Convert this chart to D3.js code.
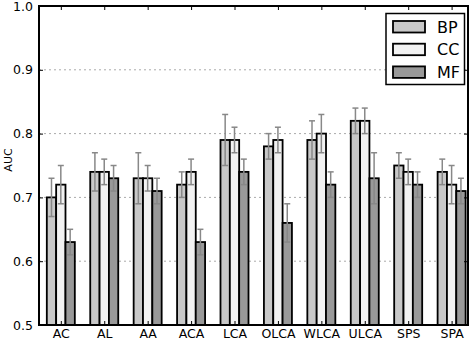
<!DOCTYPE html>
<html><head><meta charset="utf-8">
<script src="https://cdn.jsdelivr.net/npm/d3@7/dist/d3.min.js"></script>
<style>body{margin:0;background:#fff}svg{display:block}text{font-family:"DejaVu Sans",sans-serif;fill:#000}</style>
</head><body><svg id="c" width="474" height="341"></svg>
<script>
const categories = ["AC","AL","AA","ACA","LCA","OLCA","WLCA","ULCA","SPS","SPA"];
const seriesNames = ["BP","CC","MF"];
const bpValues = [0.70,0.74,0.73,0.72,0.79,0.78,0.79,0.82,0.75,0.74];
const ccValues = [0.72,0.74,0.73,0.74,0.79,0.79,0.80,0.82,0.74,0.72];
const mfValues = [0.63,0.73,0.71,0.63,0.74,0.66,0.72,0.73,0.72,0.71];
const bpErr = [0.03,0.03,0.04,0.02,0.04,0.02,0.03,0.02,0.02,0.02];
const ccErr = [0.03,0.02,0.02,0.02,0.02,0.02,0.03,0.02,0.02,0.03];
const mfErr = [0.02,0.02,0.02,0.02,0.02,0.03,0.02,0.04,0.02,0.02];
const yTicks = [0.5,0.6,0.7,0.8,0.9,1.0];
const colors = ["#c8c8c8","#f2f2f2","#999999"];

const svg = d3.select("#c");
const L=39, R=468, T=6, B=325;
const barW = 0.215;
const x = d3.scaleLinear().domain([-0.18, 9.7]).range([L, R]);
const y = d3.scaleLinear().domain([0.5, 1.0]).range([B, T]);

// grid
svg.append("g").selectAll("line").data(yTicks.filter(v=>v>0.5&&v<1)).join("line")
  .attr("x1",L).attr("x2",R).attr("y1",d=>y(d)).attr("y2",d=>y(d))
  .attr("stroke","#aaa").attr("stroke-width",1).attr("stroke-dasharray","2,3");

const series = [bpValues, ccValues, mfValues];
const errs = [bpErr, ccErr, mfErr];
series.forEach((vals, s) => {
  const g = svg.append("g");
  g.selectAll("rect").data(vals).join("rect")
    .attr("x", (d,i)=>x(i + s*barW))
    .attr("y", d=>y(d))
    .attr("width", x(barW)-x(0))
    .attr("height", d=>y(0.5)-y(d))
    .attr("fill", colors[s]).attr("stroke","#000").attr("stroke-width",1.8);
});
series.forEach((vals, s) => {
  const g = svg.append("g").attr("stroke","#888").attr("stroke-width",1.5);
  vals.forEach((d,i)=>{
    const cx = x(i + s*barW + barW/2);
    const e = errs[s][i];
    g.append("line").attr("x1",cx).attr("x2",cx).attr("y1",y(d-e)).attr("y2",y(d+e));
    [d-e,d+e].forEach(v=>g.append("line").attr("x1",cx-3).attr("x2",cx+3).attr("y1",y(v)).attr("y2",y(v)));
  });
});

// frame
svg.append("rect").attr("x",L).attr("y",T).attr("width",R-L).attr("height",B-T)
  .attr("fill","none").attr("stroke","#000").attr("stroke-width",2);

// ticks
const yAxis = d3.axisLeft(y).tickValues(yTicks).tickFormat(d3.format(".1f")).tickSize(-4).tickPadding(6);
const ya = svg.append("g").attr("transform",`translate(${L},0)`).call(yAxis);
ya.select(".domain").remove();
ya.selectAll("text").style("font-size","12.5px").style("font-family","DejaVu Sans");
ya.selectAll("line").attr("stroke","#000");
const yr = svg.append("g").attr("transform",`translate(${R},0)`).call(d3.axisRight(y).tickValues(yTicks).tickSize(-4).tickFormat(""));
yr.select(".domain").remove();

const centers = categories.map((c,i)=>i + 1.5*barW);
const xa = svg.append("g").attr("transform",`translate(0,${B})`)
  .call(d3.axisBottom(x).tickValues(centers).tickFormat((d,i)=>categories[i]).tickSize(-4).tickPadding(4));
xa.select(".domain").remove();
xa.selectAll("text").style("font-size","12.5px").style("font-family","DejaVu Sans");
const xt = svg.append("g").attr("transform",`translate(0,${T})`)
  .call(d3.axisTop(x).tickValues(centers).tickSize(-4).tickFormat(""));
xt.select(".domain").remove();

// y label
svg.append("text").attr("transform","translate(12,160) rotate(-90)").attr("text-anchor","middle")
  .style("font-size","11px").text("AUC");

// legend
const lg = svg.append("g");
lg.append("rect").attr("x",386).attr("y",13.5).attr("width",78.5).attr("height",71)
  .attr("fill","#fff").attr("stroke","#000").attr("stroke-width",1.5);
seriesNames.forEach((n,i)=>{
  lg.append("rect").attr("x",393).attr("y",21+i*22.7).attr("width",32).attr("height",11.5)
    .attr("fill",colors[i]).attr("stroke","#000").attr("stroke-width",1.8);
  lg.append("text").attr("x",437).attr("y",32.5+i*22.7).style("font-size","16px").text(n);
});
</script></body></html>
